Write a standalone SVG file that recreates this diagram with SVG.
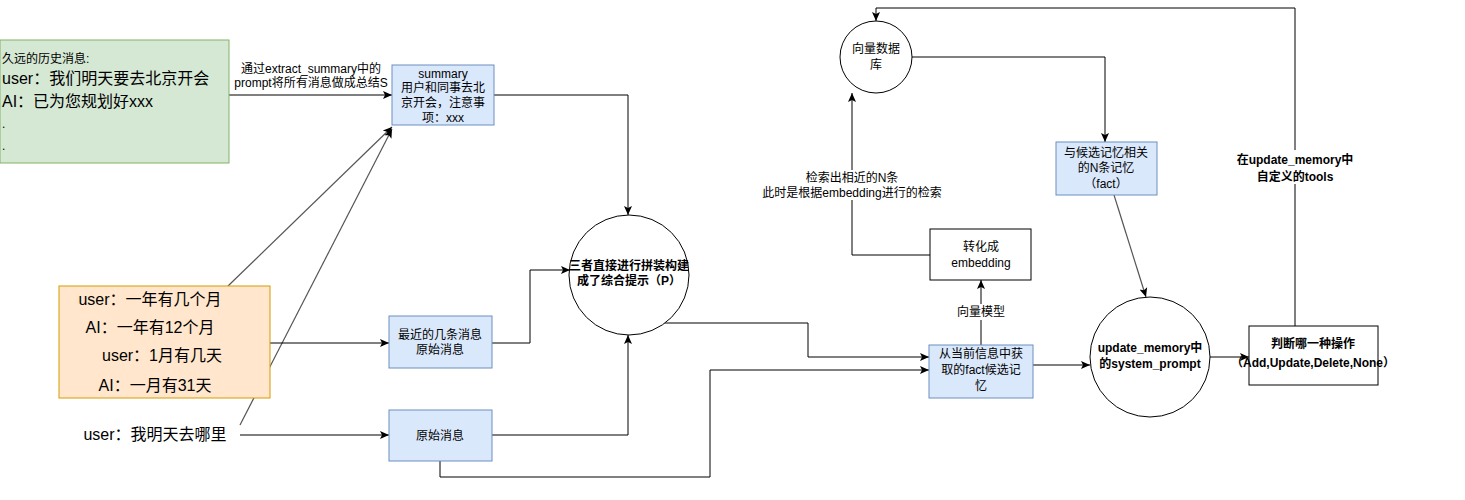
<svg xmlns="http://www.w3.org/2000/svg" width="1465" height="500" viewBox="0 0 1465 500">
<defs>
<marker id="a" markerWidth="10" markerHeight="10" refX="9" refY="5" orient="auto" markerUnits="userSpaceOnUse"><path d="M0,1 L9,5 L0,9 L2,5 Z" fill="#000"/></marker>
<style>
text{font-family:"Liberation Sans","Noto Sans CJK SC",sans-serif;font-size:12px;fill:#000;text-anchor:middle}
.c{fill:none;stroke:#000;stroke-width:1;marker-end:url(#a)}
.g{fill:none;stroke:#555;stroke-width:1.2;marker-end:url(#a)}
.blue{fill:#dae8fc;stroke:#6c8ebf}
.w{fill:#fff;stroke:#000}
.lb{fill:#fff}
.b{font-weight:bold}
.big{font-size:16px}
</style>
</defs>
<rect width="1465" height="500" fill="#fff"/>
<g id="connectors">
<path class="c" d="M229,95 H392"/>
<path class="c" d="M494,95 H628 V215"/>
<path class="g" d="M228,286 L392,127"/>
<path class="g" d="M240,425 L392,129"/>
<path class="c" d="M270,343 H389"/>
<path class="c" d="M492,343 H530 V270 H570"/>
<path class="c" d="M240,435 H389"/>
<path class="c" d="M492,435 H628 V335"/>
<path class="c" d="M440,461 V477 H710 V370 H929"/>
<path class="c" d="M660,323 H808 V357 H929"/>
<path class="c" d="M981,345 V280"/>
<path class="c" d="M930,255 H852 V93"/>
<path class="c" d="M912,57 H1105 V142"/>
<path class="g" d="M1114,195 L1146,297"/>
<path class="c" d="M1033,365 H1090"/>
<path class="c" d="M1210,357 H1249"/>
<path class="c" d="M1295,326 V8 H876 V21"/>
<text x="311" y="73">通过extract_summary中的</text>
<text x="311" y="87">prompt将所有消息做成总结S</text>
<rect class="lb" x="955" y="304" width="52" height="16"/>
<text x="981" y="316">向量模型</text>
<rect class="lb" x="762" y="170" width="180" height="30"/>
<text x="852" y="182">检索出相近的N条</text>
<text x="852" y="197">此时是根据embedding进行的检索</text>
<rect class="lb" x="1225" y="150" width="140" height="34"/>
<text class="b" x="1295" y="164" font-size="13">在update_memory中</text>
<text class="b" x="1295" y="181" font-size="13">自定义的tools</text>
</g>
<g id="history">
<rect x="0" y="40" width="229" height="123" fill="#d5e8d4" stroke="#82b366"/>
<text x="2" y="63" style="text-anchor:start">久远的历史消息:</text>
<text class="big" x="2" y="84" style="text-anchor:start">user：我们明天要去北京开会</text>
<text class="big" x="2" y="107" style="text-anchor:start">AI：已为您规划好xxx</text>
<text x="2" y="128" style="text-anchor:start">.</text>
<text x="2" y="150" style="text-anchor:start">.</text>
</g>
<g id="summary">
<rect class="blue" x="392" y="65" width="102" height="60"/>
<text x="443" y="78">summary</text>
<text x="443" y="92">用户和同事去北</text>
<text x="443" y="107">京开会，注意事</text>
<text x="443" y="122">项：xxx</text>
</g>
<g id="recent">
<rect x="59" y="286" width="211" height="112" fill="#ffe6cc" stroke="#d79b00"/>
<text class="big" x="150" y="305">user：一年有几个月</text>
<text class="big" x="150" y="333">AI：一年有12个月</text>
<text class="big" x="162" y="361">user：1月有几天</text>
<text class="big" x="155" y="391">AI：一月有31天</text>
</g>
<g id="question"><text class="big" x="155" y="440">user：我明天去哪里</text></g>
<g id="recentraw">
<rect class="blue" x="389" y="316" width="103" height="52"/>
<text x="440" y="339">最近的几条消息</text>
<text x="440" y="354">原始消息</text>
</g>
<g id="raw">
<rect class="blue" x="389" y="410" width="103" height="51"/>
<text x="440" y="440">原始消息</text>
</g>
<g id="combine">
<circle cx="629" cy="275" r="60" fill="#fff" stroke="#000"/>
<text class="b" x="629" y="270" font-size="11">三者直接进行拼装构建</text>
<text class="b" x="629" y="285" font-size="11">成了综合提示（P）</text>
</g>
<g id="fact">
<rect class="blue" x="929" y="345" width="104" height="53"/>
<text x="981" y="358" font-size="13">从当前信息中获</text>
<text x="981" y="374" font-size="13">取的fact候选记</text>
<text x="981" y="390" font-size="13">忆</text>
</g>
<g id="embedding">
<rect class="w" x="930" y="229" width="101" height="51"/>
<text x="981" y="251">转化成</text>
<text x="981" y="267">embedding</text>
</g>
<g id="vectordb">
<circle cx="876" cy="57" r="36" fill="#fff" stroke="#000"/>
<text x="876" y="53">向量数据</text>
<text x="876" y="69">库</text>
</g>
<g id="related">
<rect class="blue" x="1056" y="142" width="101" height="53"/>
<text x="1106" y="157">与候选记忆相关</text>
<text x="1106" y="172">的N条记忆</text>
<text x="1106" y="188">（fact）</text>
</g>
<g id="sysprompt">
<circle cx="1150" cy="357" r="60" fill="#fff" stroke="#000"/>
<text class="b" x="1150" y="352">update_memory中</text>
<text class="b" x="1150" y="368">的system_prompt</text>
</g>
<g id="decide">
<rect class="w" x="1249" y="326" width="129" height="59"/>
<text class="b" x="1313" y="348" font-size="13">判断哪一种操作</text>
<text class="b" x="1313" y="367" font-size="13">（Add,Update,Delete,None）</text>
</g>
</svg>
